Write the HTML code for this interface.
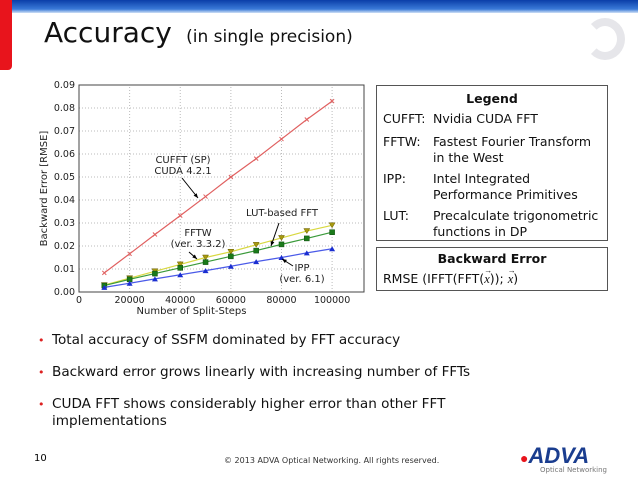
<!DOCTYPE html>
<html><head><meta charset="utf-8"><style>
body{margin:0;width:638px;height:478px;overflow:hidden;background:#fff;font-family:"DejaVu Sans","Liberation Sans",sans-serif;position:relative}
.abs{position:absolute}
.box{position:absolute;border:1px solid #555;background:#fff;box-sizing:border-box}
.row{position:absolute;font-size:12.5px;color:#111;line-height:16px}
.bul{position:absolute;left:52px;font-size:13.6px;color:#111;line-height:17px}
.bul:before{content:"•";color:#d22;position:absolute;left:-14px;font-size:11px}
.vx{font-family:'Liberation Serif',serif;font-style:italic;position:relative;display:inline-block}
.vx:before{content:"→";position:absolute;top:-8px;left:0;font-size:8px;font-style:normal}
</style></head><body>
<div class="abs" style="left:0;top:0;width:638px;height:13px;background:linear-gradient(#0a3ea8,#3a7ad8 70%,#cfe0f6)"></div>
<div class="abs" style="left:0;top:0;width:12px;height:70px;background:#e8141c;border-radius:0 0 4px 0"></div>
<div class="abs" style="left:44px;top:16px;font-size:28px;color:#111">Accuracy <span style="font-size:17px">&nbsp;(in single precision)</span></div>
<div class="abs" style="left:585px;top:18px;width:40px;height:42px;border-radius:50%;border:8px solid #e6e6ea;box-sizing:border-box;border-left-color:transparent"></div>

<svg class="abs" style="left:0;top:70px" width="370" height="250" id="chart"></svg>

<div class="box" style="left:376px;top:85px;width:232px;height:156px">
<div class="row" style="left:0;width:230px;text-align:center;top:5px;font-weight:bold">Legend</div>
<div class="row" style="left:6px;top:25px">CUFFT:</div><div class="row" style="left:56px;top:25px">Nvidia CUDA FFT</div>
<div class="row" style="left:6px;top:48px">FFTW:</div><div class="row" style="left:56px;top:48px">Fastest Fourier Transform<br>in the West</div>
<div class="row" style="left:6px;top:85px">IPP:</div><div class="row" style="left:56px;top:85px">Intel Integrated<br>Performance Primitives</div>
<div class="row" style="left:6px;top:122px">LUT:</div><div class="row" style="left:56px;top:122px">Precalculate trigonometric<br>functions in DP</div>
</div>
<div class="box" style="left:376px;top:247px;width:232px;height:44px">
<div class="row" style="left:0;width:230px;text-align:center;top:3px;font-weight:bold">Backward Error</div>
<div class="row" style="left:6px;top:23px">RMSE (IFFT(FFT(<span class="vx">x</span>)); <span class="vx">x</span>)</div>
</div>

<div class="bul" style="top:332px">Total accuracy of SSFM dominated by FFT accuracy</div>
<div class="bul" style="top:364px">Backward error grows linearly with increasing number of FFTs</div>
<div class="bul" style="top:396px">CUDA FFT shows considerably higher error than other FFT<br>implementations</div>
<div class="abs" style="left:34px;top:453px;font-size:10px">10</div>
<div class="abs" style="left:224px;top:456px;font-size:8px;color:#333">© 2013 ADVA Optical Networking. All rights reserved.</div>
<div class="abs" style="left:520px;top:443px;font-size:22px;font-weight:bold;font-style:italic;color:#1a3d8f;font-family:'Liberation Sans',sans-serif"><span style="color:#e8141c;font-size:14px">●</span>ADVA</div>
<div class="abs" style="left:540px;top:466px;font-size:7px;color:#777">Optical Networking</div>

<script>
const xs=[10000,20000,30000,40000,50000,60000,70000,80000,90000,100000];
const cufft=[0.0083,0.0166,0.025,0.0332,0.0415,0.050,0.058,0.0665,0.075,0.083];
const lut=[0.003,0.006,0.009,0.012,0.015,0.0175,0.0205,0.0235,0.0265,0.029];
const fftw=[0.0028,0.0055,0.008,0.0105,0.013,0.0155,0.018,0.0207,0.0233,0.026];
const ipp=[0.002,0.0038,0.0057,0.0075,0.0093,0.0112,0.0132,0.015,0.017,0.0188];
const xTicks=[0,20000,40000,60000,80000,100000];
const yTicks=[0,0.01,0.02,0.03,0.04,0.05,0.06,0.07,0.08,0.09];
const svg=document.getElementById('chart');const NS='http://www.w3.org/2000/svg';
const X0=79,X1=364,Y0=222,Y1=15,XMAX=112600,YMAX=0.09;
const sx=v=>X0+(X1-X0)*v/XMAX, sy=v=>Y0-(Y0-Y1)*v/YMAX;
function el(t,a,p){const e=document.createElementNS(NS,t);for(const k in a)e.setAttribute(k,a[k]);(p||svg).appendChild(e);return e;}
yTicks.forEach(t=>{const g=el('line',{x1:X0,x2:X1,y1:sy(t),y2:sy(t),stroke:'#bbb','stroke-dasharray':'1,2'});

const l=el('text',{x:X0-4,y:sy(t)+3,'text-anchor':'end','font-size':9.5,fill:'#222'});l.textContent=t.toFixed(2);
});
xTicks.forEach(t=>{const g=el('line',{x1:sx(t),x2:sx(t),y1:Y0,y2:Y1,stroke:'#bbb','stroke-dasharray':'1,2'});

const l=el('text',{x:sx(t),y:Y0+11,'text-anchor':'middle','font-size':9.5,fill:'#222'});l.textContent=t;
});
const fr=el('rect',{x:X0,y:Y1,width:X1-X0,height:Y0-Y1,fill:'none',stroke:'#444'});

const xt=el('text',{x:(X0+X1)/2-30,y:Y0+22,'text-anchor':'middle','font-size':10,fill:'#222'});xt.textContent='Number of Split-Steps';

const yt=el('text',{x:0,y:0,'text-anchor':'middle','font-size':10,fill:'#222',transform:`translate(47,${(Y0+Y1)/2}) rotate(-90)`});yt.textContent='Backward Error [RMSE]';

function series(vals,color,mk,name){
const p=el('polyline',{points:xs.map((x,i)=>sx(x)+','+sy(vals[i])).join(' '),fill:'none',stroke:color,'stroke-width':1.2});

xs.forEach((x,i)=>{const cx=sx(x),cy=sy(vals[i]);let m;
if(mk==='x')m=el('path',{d:`M${cx-2},${cy-2}L${cx+2},${cy+2}M${cx-2},${cy+2}L${cx+2},${cy-2}`,stroke:color});
else if(mk==='s')m=el('rect',{x:cx-2.5,y:cy-2.5,width:5,height:5,fill:'#1a7a1a',stroke:'#0a4a0a','stroke-width':0.5});
else if(mk==='v')m=el('path',{d:`M${cx-3},${cy-2.5}L${cx+3},${cy-2.5}L${cx},${cy+2.5}Z`,fill:'#a89a10',stroke:'#665c00','stroke-width':0.5});
else m=el('path',{d:`M${cx-3},${cy+2.5}L${cx+3},${cy+2.5}L${cx},${cy-2.5}Z`,fill:'#1a2ed0'});
});}
series(cufft,'#e06060','x','cufft');
series(lut,'#d8d840','v','lut');
series(fftw,'#3a9a3a','s','fftw');
series(ipp,'#4a5ae8','t','ipp');
function ann(lines,tx,ty,ax,ay,bx,by,name){
lines.forEach((s,i)=>{const t=el('text',{x:tx,y:ty+i*11,'text-anchor':'middle','font-size':10,fill:'#222'});t.textContent=s;
});
const a=el('line',{x1:ax,y1:ay,x2:bx,y2:by,stroke:'#000','stroke-width':1});

const d=Math.atan2(by-ay,bx-ax),h=el('path',{d:`M${bx},${by}L${bx-5*Math.cos(d-0.4)},${by-5*Math.sin(d-0.4)}L${bx-5*Math.cos(d+0.4)},${by-5*Math.sin(d+0.4)}Z`});
}
ann(['CUFFT (SP)','CUDA 4.2.1'],183,93,182,108,198,128,'cufft');
ann(['FFTW','(ver. 3.3.2)'],198,166,189,182,197,189,'fftw');
ann(['IPP','(ver. 6.1)'],302,201,293,196,282,189,'ipp');
ann(['LUT-based FFT'],282,146,279,153,271,176,'lut');
</script>
</body></html>
